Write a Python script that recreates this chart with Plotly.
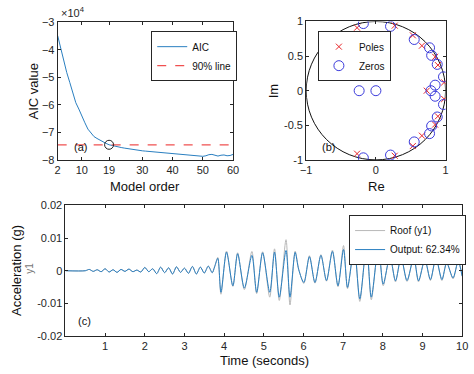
import plotly.graph_objects as go

# ---------------- data ----------------
# (a) AIC vs model order (values in units of 1e4)
model_order = list(range(2, 61))
aic_value = [-3.48, -3.95, -4.40, -4.82, -5.18, -5.52, -5.92, -6.15, -6.42, -6.65,
             -6.88, -7.00, -7.15, -7.22, -7.27, -7.32, -7.40, -7.45, -7.48, -7.51,
             -7.53, -7.55, -7.57, -7.59, -7.61, -7.63, -7.64, -7.66, -7.67, -7.68,
             -7.69, -7.70, -7.71, -7.72, -7.73, -7.74, -7.75, -7.76, -7.77, -7.78,
             -7.79, -7.80, -7.81, -7.82, -7.83, -7.84, -7.85, -7.86, -7.87, -7.85,
             -7.81, -7.80, -7.84, -7.86, -7.83, -7.82, -7.85, -7.84, -7.80]
line90_x = [2, 60]
line90_y = [-7.45, -7.45]
chosen_order = [19]
chosen_aic = [-7.45]
aic_ticks = [-3, -4, -5, -6, -7, -8]
order_ticks = [2, 10, 19, 30, 40, 50, 60]

# (b) poles and zeros
pole_re = [-0.27, -0.27, 0.27, 0.27, 0.53, 0.53, 0.66, 0.66, 0.85, 0.85,
           0.89, 0.89, 0.98, 0.98, 0.73]
pole_im = [0.91, -0.91, 0.94, -0.94, 0.80, -0.80, 0.65, -0.65, 0.49, -0.49,
           0.37, -0.37, 0.12, -0.12, 0.0]
zero_re = [-0.18, -0.18, 0.21, 0.21, 0.55, 0.55, 0.77, 0.77, 0.80, 0.80,
           0.88, 0.88, 0.97, 0.97, 0.85, 0.85, 0.79, -0.24, 0.0]
zero_im = [0.97, -0.97, 0.93, -0.93, 0.74, -0.74, 0.62, -0.62, 0.51, -0.51,
           0.38, -0.38, 0.20, -0.20, 0.08, -0.08, 0.0, 0.0, 0.0]

# (c) time history (g)
time_s = [0.0, 0.5, 0.6, 0.7, 0.8, 0.9, 1.0, 1.1, 1.2, 1.3, 1.4, 1.5, 1.6, 1.7,
          1.8, 1.9, 2.0, 2.1, 2.2, 2.3, 2.4, 2.5, 2.6, 2.7, 2.8, 2.9, 3.0, 3.1,
          3.2, 3.3, 3.4, 3.5, 3.6, 3.7, 3.76,
          3.84, 3.92, 4.06, 4.22, 4.34, 4.51, 4.70, 4.82, 4.97, 5.15, 5.27, 5.39,
          5.56, 5.66, 5.79, 5.88, 6.01, 6.15, 6.29, 6.44, 6.58, 6.73, 6.87, 7.01,
          7.11, 7.28, 7.42, 7.59, 7.71, 7.89, 8.01, 8.18, 8.32, 8.46, 8.61, 8.78,
          8.90, 9.06, 9.20, 9.34, 9.49, 9.61, 9.77, 9.90, 10.0]
roof_y1 = [0.0, 0.0, 0.0004, -0.0002, 0.0003, -0.0003, 0.0006, -0.0004, 0.0003,
           -0.0005, 0.0004, -0.0002, 0.0005, -0.0003, 0.0002, -0.0004, 0.0010,
           -0.0003, 0.0006, -0.0009, 0.0011, -0.0006, 0.0009, -0.0010, 0.0012,
           -0.0005, 0.0008, -0.0008, 0.0013, -0.0010, 0.0011, -0.0007, 0.0014,
           -0.0006, 0.0012,
           0.0041, -0.0072, 0.0060, -0.0048, 0.0055, -0.0058, 0.0059, -0.0070,
           0.0058, -0.0081, 0.0067, -0.0091, 0.0095, -0.0105, 0.0060, 0.0005,
           -0.0039, 0.0046, -0.0038, 0.0049, -0.0032, 0.0063, -0.0049, 0.0077,
           -0.0055, 0.0082, -0.0094, 0.0084, -0.0089, 0.0078, -0.0046, 0.0045,
           -0.0034, 0.0043, -0.0033, 0.0042, -0.0034, 0.0037, -0.0030, 0.0040,
           -0.0030, 0.0027, -0.0025, 0.0031, -0.0015]
model_output = [0.0, 0.0, 0.0004, -0.0002, 0.0003, -0.0003, 0.0006, -0.0004, 0.0003,
                -0.0005, 0.0004, -0.0002, 0.0005, -0.0003, 0.0002, -0.0004, 0.0010,
                -0.0003, 0.0006, -0.0009, 0.0011, -0.0006, 0.0009, -0.0010, 0.0012,
                -0.0005, 0.0008, -0.0008, 0.0013, -0.0010, 0.0011, -0.0007, 0.0014,
                -0.0006, 0.0012,
                0.0038, -0.0066, 0.0057, -0.0046, 0.0052, -0.0053, 0.0047, -0.0066,
                0.0055, -0.0066, 0.0057, -0.0081, 0.0062, -0.0081, 0.0056, 0.0003,
                -0.0036, 0.0043, -0.0036, 0.0047, -0.0030, 0.0059, -0.0046, 0.0065,
                -0.0051, 0.0067, -0.0086, 0.0075, -0.0081, 0.0072, -0.0041, 0.0043,
                -0.0031, 0.0040, -0.0030, 0.0040, -0.0031, 0.0033, -0.0027, 0.0038,
                -0.0027, 0.0023, -0.0022, 0.0028, -0.0017]
time_ticks = [1, 2, 3, 4, 5, 6, 7, 8, 9, 10]
acc_ticks = [0.02, 0.01, 0, -0.01, -0.02]
acc_tick_text = ["0.02", "0.01", "0", "-0.01", "-0.02"]

# ---------------- figure ----------------
W, H = 474, 374
FONT = "Liberation Sans, Arial, sans-serif"
AX = "#262626"
BLUE = "#2a7fc0"
GRAY = "#b8b8b8"
RED = "#f05050"


def px(x):
    return x / W


def py(y):
    return 1 - y / H


fig = go.Figure()

# (a)
fig.add_trace(go.Scatter(x=model_order, y=aic_value, mode="lines", name="AIC",
                         line=dict(color=BLUE, width=1), xaxis="x", yaxis="y",
                         legend="legend"))
fig.add_trace(go.Scatter(x=line90_x, y=line90_y, mode="lines", name="90% line",
                         line=dict(color=RED, width=1.2, dash="dash"), xaxis="x",
                         yaxis="y", legend="legend"))
fig.add_trace(go.Scatter(x=chosen_order, y=chosen_aic, mode="markers", showlegend=False,
                         marker=dict(symbol="circle-open", size=9, color="#222222",
                                     line=dict(width=1)), xaxis="x", yaxis="y"))

# (b)
fig.add_trace(go.Scatter(x=pole_re, y=pole_im, mode="markers", name="Poles",
                         marker=dict(symbol="x-thin-open", size=6, color="#e8262a",
                                     line=dict(width=1, color="#e8262a")),
                         xaxis="x2", yaxis="y2", legend="legend2"))
fig.add_trace(go.Scatter(x=zero_re, y=zero_im, mode="markers", name="Zeros",
                         marker=dict(symbol="circle-open", size=10, color="#3b3bdb",
                                     line=dict(width=1, color="#3b3bdb")),
                         xaxis="x2", yaxis="y2", legend="legend2"))

# (c)
fig.add_trace(go.Scatter(x=time_s, y=roof_y1, mode="lines", name="Roof (y1)",
                         line=dict(color=GRAY, width=1, shape="spline", smoothing=0.8),
                         xaxis="x3", yaxis="y3", legend="legend3"))
fig.add_trace(go.Scatter(x=time_s, y=model_output, mode="lines", name="Output: 62.34%",
                         line=dict(color=BLUE, width=1, shape="spline", smoothing=0.8),
                         xaxis="x3", yaxis="y3", legend="legend3"))

axis_common = dict(showline=True, linecolor=AX, linewidth=1, mirror="allticks",
                   ticks="inside", ticklen=3, tickcolor=AX, showgrid=False,
                   zeroline=False, tickfont=dict(family=FONT, size=11, color=AX))

legend_common = dict(xanchor="left", yanchor="top", bgcolor="white", bordercolor=AX,
                     borderwidth=1, font=dict(family=FONT, size=10, color="#111111"),
                     tracegroupgap=0, itemwidth=30)

fig.update_layout(
    width=W, height=H, autosize=False,
    margin=dict(l=0, r=0, t=0, b=0),
    paper_bgcolor="white", plot_bgcolor="white",
    font=dict(family=FONT, color=AX),
    xaxis=dict(domain=[px(53), px(233)], range=[2, 60], tickvals=order_ticks,
               anchor="y", **axis_common),
    yaxis=dict(domain=[py(159), py(17)], range=[-8, -3], tickvals=aic_ticks,
               anchor="x", **axis_common),
    xaxis2=dict(domain=[px(308), px(451)], range=[-1, 1], tickvals=[-1, 0, 1],
                anchor="y2", **axis_common),
    yaxis2=dict(domain=[py(159), py(16)], range=[-1, 1],
                tickvals=[-1, -0.5, 0, 0.5, 1], ticktext=["-1", "-0.5", "0", "0.5", "1"],
                anchor="x2", **axis_common),
    xaxis3=dict(domain=[px(61), px(468)], range=[0, 10], tickvals=time_ticks,
                anchor="y3", **axis_common),
    yaxis3=dict(domain=[py(341), py(206)], range=[-0.02, 0.02], tickvals=acc_ticks,
                ticktext=acc_tick_text, anchor="x3", **axis_common),
    legend=dict(x=px(149), y=py(26), **legend_common),
    legend2=dict(x=px(320), y=py(26), **legend_common),
    legend3=dict(x=px(352), y=py(216), **legend_common),
    showlegend=True,
)

# unit circle in pole-zero plot
fig.add_shape(type="circle", xref="x2", yref="y2", x0=-1, y0=-1, x1=1, y1=1,
              line=dict(color="#111111", width=1), layer="below")

ann = []


def text(x, y, s, size=12, angle=0, color="#111111", xanchor="center", yanchor="middle"):
    ann.append(dict(x=px(x), y=py(y), xref="paper", yref="paper", text=s,
                    showarrow=False, textangle=angle, xanchor=xanchor, yanchor=yanchor,
                    font=dict(family=FONT, size=size, color=color)))


text(54, 6, "×10<sup>4</sup>", size=11, color=AX, xanchor="left")
text(28, 88, "AIC value", size=13, angle=-90)
text(143, 186, "Model order", size=13)
text(68, 146, "(a)", size=11, xanchor="left")
text(274, 88, "Im", size=13, angle=-90)
text(380, 186, "Re", size=13)
text(322, 146, "(b)", size=11, xanchor="left")
text(10, 273, "Acceleration (g)", size=13, angle=-90)
text(24, 271, "y1", size=10, angle=-90, color="#777777")
text(265, 366, "Time (seconds)", size=13)
text(72, 325, "(c)", size=11, xanchor="left")
fig.update_layout(annotations=ann)

fig.write_html(
    "out.html",
    config={"displayModeBar": False},
    post_script="document.body.style.margin='0';document.body.style.overflow='hidden';",
)
